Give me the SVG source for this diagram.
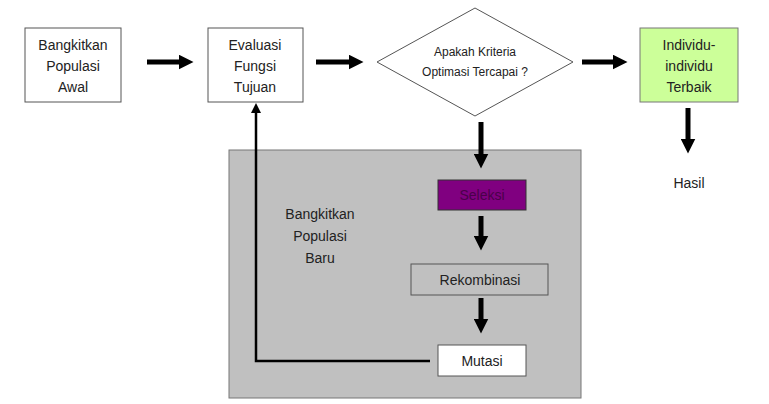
<svg xmlns="http://www.w3.org/2000/svg" width="769" height="404" viewBox="0 0 769 404">
<style>
text{font-family:"Liberation Sans",Arial,sans-serif;font-size:14px;fill:#222;text-anchor:middle}
.b{fill:#fff;stroke:#555;stroke-width:1}
.a{stroke:#000;stroke-width:5;fill:none}
</style>
<defs><marker id="h" markerWidth="3" markerHeight="3" refX="1.5" refY="1.5" orient="auto"><path d="M0,0L3,1.5L0,3z" fill="#000"/></marker>
<marker id="t" markerWidth="10" markerHeight="10" refX="5" refY="5" markerUnits="userSpaceOnUse" orient="auto"><path d="M0,0L10,5L0,10z" fill="#000"/></marker></defs>
<rect width="769" height="404" fill="#fff"/>
<rect x="229" y="150" width="352" height="248" fill="#c0c0c0" stroke="#777"/>
<text x="320" y="219">Bangkitkan</text><text x="320" y="241">Populasi</text><text x="320" y="263">Baru</text>
<g id="n1"><rect class="b" x="25" y="28" width="96" height="74"/><text x="73" y="50">Bangkitkan</text><text x="73" y="71">Populasi</text><text x="73" y="92">Awal</text></g>
<g id="n2"><rect class="b" x="208" y="28" width="95" height="74"/><text x="255" y="50">Evaluasi</text><text x="255" y="71">Fungsi</text><text x="255" y="92">Tujuan</text></g>
<g id="n3"><path class="b" d="M475,8L573,62L475,116L377,62z"/><text x="475" y="56" style="font-size:12px">Apakah Kriteria</text><text x="475" y="76" style="font-size:12px">Optimasi Tercapai ?</text></g>
<g id="n4"><rect x="640" y="28" width="98" height="74" fill="#ccff99" stroke="#777"/><text x="689" y="50">Individu-</text><text x="689" y="71">individu</text><text x="689" y="92">Terbaik</text></g>
<g id="n5"><text x="689" y="188">Hasil</text></g>
<g id="n6"><rect x="438" y="180" width="88" height="30" fill="#800080" stroke="#333"/><text x="482" y="200" style="fill:#4a004a">Seleksi</text></g>
<g id="n7"><rect x="411" y="264" width="137" height="31" fill="#c0c0c0" stroke="#555"/><text x="480" y="285">Rekombinasi</text></g>
<g id="n8"><rect class="b" x="438" y="345" width="88" height="31"/><text x="482" y="366">Mutasi</text></g>
<g id="edges">
<path class="a" d="M147,62H186" marker-end="url(#h)"/>
<path class="a" d="M316,62H356" marker-end="url(#h)"/>
<path class="a" d="M582,62H620" marker-end="url(#h)"/>
<path class="a" d="M481,122V161" marker-end="url(#h)"/>
<path class="a" d="M688,108V146" marker-end="url(#h)"/>
<path class="a" d="M481,216V243" marker-end="url(#h)"/>
<path class="a" d="M481,298V326" marker-end="url(#h)"/>
<path d="M430,361H256V108" stroke="#000" stroke-width="2.5" fill="none" marker-end="url(#t)"/>
</g>
</svg>
